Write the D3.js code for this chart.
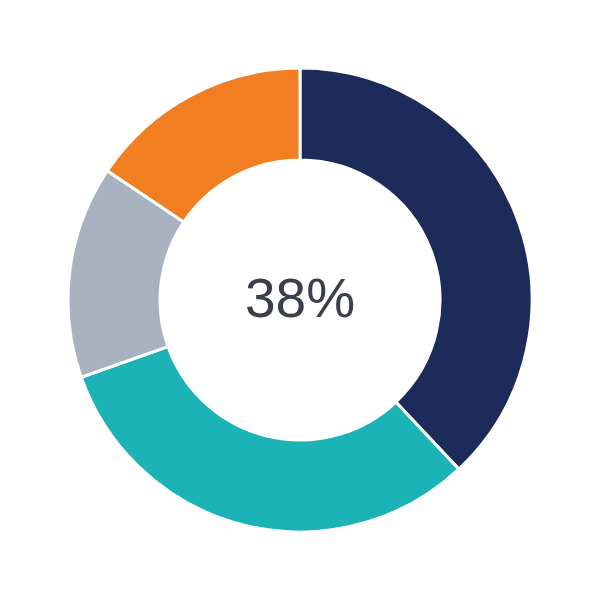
<!DOCTYPE html>
<html>
<head>
<meta charset="utf-8">
<script src="https://cdn.jsdelivr.net/npm/d3@7"></script>
<style>
  html, body { margin: 0; padding: 0; background: #fff; }
</style>
</head>
<body>
<div id="chart"></div>
<script>
// slice data, clockwise from 12 o'clock
const categories = ["A", "B", "C", "D"];
const values = [38, 31.6, 14.8, 15.6];
const colors = ["#1c2b5a", "#1bb3b6", "#a7b1c0", "#f17e21"];
const centerLabel = "38%";

const width = 600, height = 600;
const outerR = 232, innerR = 140;

const svg = d3
  .select("#chart")
  .append("svg")
  .attr("width", width)
  .attr("height", height)
  .append("g")
  .attr("transform", `translate(300, 300)`);

const pie = d3.pie().sort(null).value((d) => d.value);
const arc = d3.arc().innerRadius(innerR).outerRadius(outerR);

const data = categories.map((c, i) => ({ name: c, value: values[i], color: colors[i] }));

svg
  .selectAll("path")
  .data(pie(data))
  .join("path")
  .attr("d", arc)
  .attr("fill", (d) => d.data.color)
  .attr("stroke", "#fff")
  .attr("stroke-width", 3);

svg
  .append("text")
  .attr("text-anchor", "middle")
  .attr("y", 17)
  .style("font-family", "'Liberation Sans', Arial, sans-serif")
  .style("font-size", "55px")
  .style("fill", "#3a3f4b")
  .text(centerLabel);
</script>
</body>
</html>
